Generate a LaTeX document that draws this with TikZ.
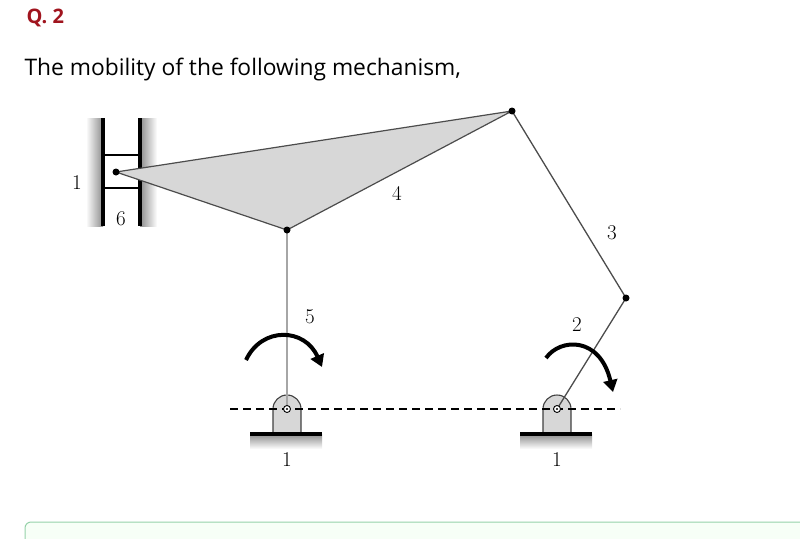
\documentclass[tikz,border=0pt]{standalone}
\usepackage{fontspec}
\setsansfont{Open Sans}
\usetikzlibrary{arrows.meta}
\definecolor{qred}{RGB}{160,20,30}
\definecolor{linkgray}{RGB}{215,215,215}
\definecolor{boxgreen}{RGB}{150,210,170}
\begin{document}
\begin{tikzpicture}[x=1pt,y=-1pt,
  lbl/.style={font=\fontsize{21}{21}\selectfont},
  joint/.style={circle,fill=black,inner sep=0pt,minimum size=7pt},
  bar/.style={line width=1.3pt,black!70},
  turn/.style={line width=4pt,-{Triangle[length=12pt,width=14pt]}}]
\useasboundingbox (0,0) rectangle (800,538);
\node[anchor=west,font=\sffamily\bfseries\fontsize{20}{20}\selectfont,text=qred] (q) at (23,18) {Q. 2};
\node[anchor=west,font=\sffamily\fontsize{22.8}{23}\selectfont] (t) at (21,70) {The mobility of the following mechanism,};
% slider rails
\shade[left color=white,right color=black!45] (86,118) rectangle (103,226);
\shade[left color=black!45,right color=white] (140,118) rectangle (157,226);
\draw[line width=3.5pt] (103,118) -- (103,226);
\draw[line width=3.5pt] (140,118) -- (140,226);
\draw[line width=1.2pt] (103,155) -- (140,155) (103,188) -- (140,188);
% triangle link 4
\coordinate (S) at (116,172);
\coordinate (T) at (512,111);
\coordinate (B) at (287,230);
\coordinate (C) at (626,298);
\coordinate (P1) at (287,409);
\coordinate (P2) at (557,409);
\filldraw[fill=linkgray,draw=black!70,line width=1.2pt] (S) -- (T) -- (B) -- cycle;
\draw[bar] (T) -- (C);
% ground pivots
\foreach \p in {P1,P2}{
  \begin{scope}[shift={(\p)}]
  \shade[top color=black!45,bottom color=white] (-37,25) rectangle (35,40);
  \filldraw[fill=linkgray,draw=black!75,line width=1.1pt] (-14,24) -- (-14,0) arc[start angle=180,end angle=360,radius=14] -- (14,24);
  \draw[line width=4pt] (-37,25) -- (35,25);
  \end{scope}}
\draw[bar] (C) -- (P2);
\draw[line width=1.5pt,black!35] (B) -- (P1);
\draw[line width=2.5pt,dash pattern=on 8pt off 5pt] (230,409) -- (620,409);
\foreach \p in {P1,P2}{
  \draw[fill=white,line width=0.9pt] (\p) circle (3.5pt);
  \fill (\p) circle (1.2pt);}
\node[joint] (jS) at (S) {};
\node[joint] (jT) at (T) {};
\node[joint] (jB) at (B) {};
\node[joint] (jC) at (C) {};
% rotation arrows
\draw[turn] (246,360) .. controls (262,326) and (305,328) .. (322,367);
\draw[turn] (546,358) .. controls (560,338) and (600,336) .. (613,392);
% labels
\node[lbl] (l1a) at (77,183) {1};
\node[lbl] (l6) at (121,219) {6};
\node[lbl] (l4) at (397,193) {4};
\node[lbl] (l3) at (612,233) {3};
\node[lbl] (l5) at (310,317) {5};
\node[lbl] (l2) at (577,325) {2};
\node[lbl] (l1b) at (287,460) {1};
\node[lbl] (l1c) at (557,460) {1};
% bottom box
\draw[boxgreen,line width=1pt,fill=green!3,rounded corners=6pt] (25,522) rectangle (820,560);
\end{tikzpicture}
\end{document}
